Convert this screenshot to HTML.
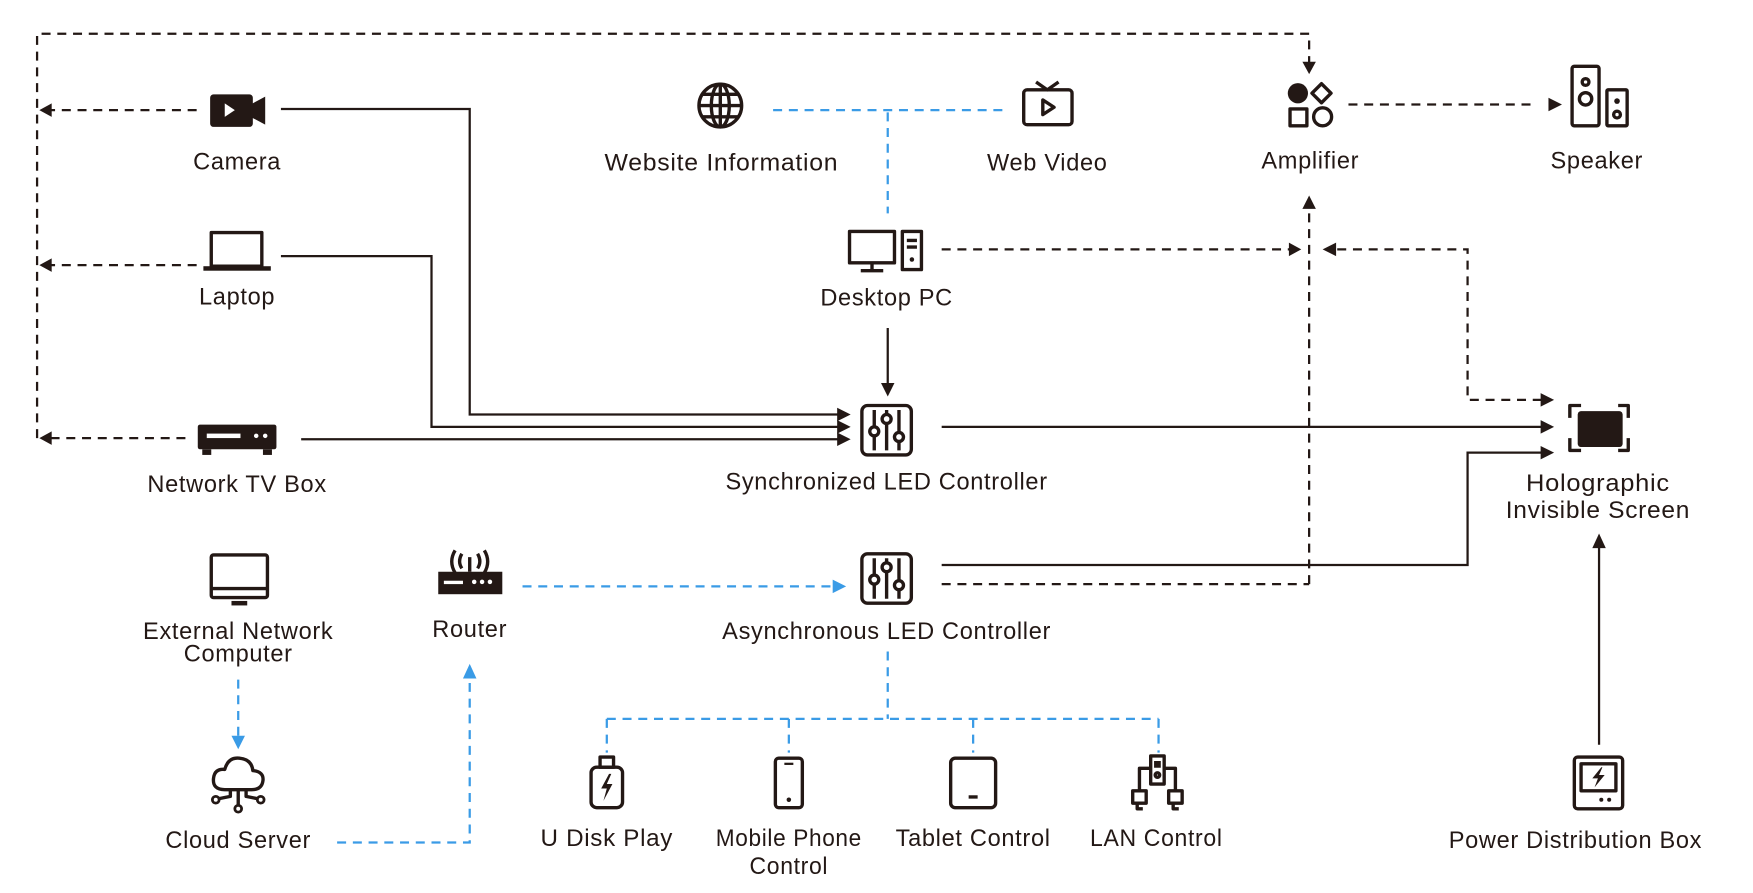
<!DOCTYPE html>
<html><head><meta charset="utf-8"><style>
html,body{margin:0;padding:0;background:#fff;}
svg{display:block;}
text{font-family:"Liberation Sans",sans-serif;font-size:21px;fill:#231815;text-anchor:middle;letter-spacing:0.6px;}
.k{stroke:#231815;stroke-width:2;fill:none;}
.d{stroke:#231815;stroke-width:2;fill:none;stroke-dasharray:8 6;}
.b{stroke:#3a9be6;stroke-width:2;fill:none;stroke-dasharray:8 6;}
.ak{fill:#231815;}
.ab{fill:#3a9be6;}
.i{stroke:#231815;stroke-width:3;fill:none;stroke-linejoin:round;}
.f{fill:#231815;}
</style></head><body>
<svg width="1753" height="893" viewBox="0 0 1560 795" preserveAspectRatio="none" xmlns="http://www.w3.org/2000/svg">
<path class="d" d="M33 390 V30 H1165 V56"/>
<polygon class="ak" points="1159,55 1171,55 1165,66"/>
<path class="d" d="M175 98 H44"/><polygon class="ak" points="35,98 46,92 46,104"/>
<path class="d" d="M175 236 H44"/><polygon class="ak" points="35,236 46,230 46,242"/>
<path class="d" d="M165 390 H44"/><polygon class="ak" points="35,390 46,384 46,396"/>

<path class="k" d="M250 97 H418 V369 H746"/>
<path class="k" d="M250 228 H384 V380 H746"/>
<path class="k" d="M268 391 H746"/>
<polygon class="ak" points="757,369 745,363 745,375"/>
<polygon class="ak" points="757,380 745,374 745,386"/>
<polygon class="ak" points="757,391 745,385 745,397"/>

<path class="b" d="M688 98 H893"/>
<path class="b" d="M790 100 V190"/>
<path class="k" d="M790 292 V342"/><polygon class="ak" points="784,341 796,341 790,353"/>
<path class="d" d="M838 222 H1148"/><polygon class="ak" points="1158,222 1147,216 1147,228"/>
<path class="d" d="M1200 93 H1368"/><polygon class="ak" points="1390,93 1378,87 1378,99"/>
<path class="d" d="M1165 520 V186"/><polygon class="ak" points="1165,174 1159,186 1171,186"/>
<path class="d" d="M838 520 H1165"/>
<path class="d" d="M1190 222 H1306 V356 H1372"/>
<polygon class="ak" points="1177,222 1189,216 1189,228"/>
<polygon class="ak" points="1383,356 1371,350 1371,362"/>
<path class="k" d="M838 380 H1372"/><polygon class="ak" points="1383,380 1371,374 1371,386"/>
<path class="k" d="M838 503 H1306 V403 H1372"/><polygon class="ak" points="1383,403 1371,397 1371,409"/>
<path class="k" d="M1423 663 V487"/><polygon class="ak" points="1423,475 1417,488 1429,488"/>

<path class="b" d="M212 605 V655"/><polygon class="ab" points="206,655 218,655 212,667"/>
<path class="b" d="M300 750 H418 V604"/><polygon class="ab" points="418,591 412,604 424,604"/>
<path class="b" d="M465 522 H740"/><polygon class="ab" points="753,522 741,516 741,528"/>
<path class="b" d="M790 580 V640 M540 640 H1031 M540 640 V670 M702 640 V670 M866 640 V670 M1031 640 V670"/>

<rect class="f" x="187" y="84" width="38" height="29" rx="3"/>
<polygon class="f" points="223,93 236,86 236,111 223,104"/>
<polygon points="200,92 200,104 209,98" fill="#fff"/>
<rect class="i" x="188" y="207" width="45" height="30"/>
<rect class="f" x="181" y="237" width="60" height="4"/>
<rect class="f" x="176" y="378" width="70" height="22" rx="2"/>
<rect x="184" y="386" width="30" height="4" fill="#fff"/>
<circle cx="228" cy="388" r="2" fill="#fff"/><circle cx="236" cy="388" r="2" fill="#fff"/>
<rect class="f" x="180" y="400" width="8" height="5"/><rect class="f" x="234" y="400" width="8" height="5"/>
<circle class="i" cx="641" cy="94" r="19"/>
<ellipse class="i" cx="641" cy="94" rx="8" ry="19"/>
<path class="i" d="M622 94 H660 M641 75 V113 M625 84 H657 M625 104 H657"/>
<rect class="i" x="911" y="80" width="43" height="31" rx="3"/>
<path class="i" d="M922 73 L932 80 L942 73"/>
<polygon class="i" points="928,89 928,102 938,95.5"/>
<rect class="i" x="756" y="206" width="40" height="28"/>
<path class="i" d="M776 234 V241 M766 241 H786"/>
<rect class="i" x="803" y="206" width="17" height="34"/>
<path class="i" d="M807 214 H816 M807 220 H816"/><circle class="f" cx="811.5" cy="231" r="2"/>
<g id="sl">
<rect class="i" x="767" y="361" width="44" height="44" rx="5"/>
<path class="i" d="M778 365 V401 M789 365 V401 M800 365 V401"/>
<circle cx="778" cy="384" r="4" fill="#fff" stroke="#231815" stroke-width="3"/>
<circle cx="789" cy="373" r="4" fill="#fff" stroke="#231815" stroke-width="3"/>
<circle cx="800" cy="389" r="4" fill="#fff" stroke="#231815" stroke-width="3"/>
</g>
<use href="#sl" y="132"/>
<circle class="f" cx="1155" cy="83" r="9"/>
<rect class="i" x="1170" y="77" width="12" height="12" transform="rotate(45 1176 83)"/>
<rect class="i" x="1148" y="97" width="15" height="15"/>
<circle class="i" cx="1177" cy="104" r="8"/>
<rect class="i" x="1399" y="59" width="24" height="53" rx="2"/>
<circle class="i" cx="1411" cy="73" r="3"/><circle class="i" cx="1411" cy="88" r="5.5"/>
<rect class="i" x="1430" y="80" width="18" height="32" rx="1"/>
<circle class="f" cx="1439" cy="90" r="2.5"/><circle class="i" cx="1439" cy="102" r="3"/>
<rect class="f" x="1404" y="366" width="40" height="32" rx="3"/>
<path class="i" d="M1397 372 V361 H1407 M1440 361 H1449 V372 M1397 390 V401 H1407 M1440 401 H1449 V390" stroke-width="2.5"/>
<rect class="i" x="188" y="494" width="50" height="38" rx="2"/>
<path class="i" d="M188 524 H238"/>
<rect class="f" x="206" y="535" width="14" height="4"/>
<rect class="f" x="390" y="509" width="57" height="20"/>
<rect x="395" y="517" width="17" height="3" fill="#fff"/>
<circle cx="422" cy="518" r="2" fill="#fff"/><circle cx="429" cy="518" r="2" fill="#fff"/><circle cx="436" cy="518" r="2" fill="#fff"/>
<path class="i" d="M418 509 V496" stroke-width="2.5"/>
<path class="i" d="M411 493 Q407 500 411 506 M425 493 Q429 500 425 506 M405 490 Q399 500 405 510 M431 490 Q437 500 431 510" stroke-width="2"/>
<path class="i" d="M200 703 Q189 703 190 693 Q191 684 200 685 Q203 674 213 675 Q224 676 225 686 Q235 687 234 695 Q233 703 224 703 Z" stroke-width="2.5"/>
<path class="i" d="M212 703 V717 M205 703 V709 L195 711 M219 703 V709 L229 711" stroke-width="2.5"/>
<circle cx="212" cy="720" r="3" fill="#fff" stroke="#231815" stroke-width="2.5"/>
<circle cx="192" cy="712" r="3" fill="#fff" stroke="#231815" stroke-width="2.5"/>
<circle cx="232" cy="712" r="3" fill="#fff" stroke="#231815" stroke-width="2.5"/>
<rect class="i" x="534" y="674" width="12" height="9"/>
<rect class="i" x="526" y="683" width="28" height="36" rx="5"/>
<polygon class="f" points="542,689 535,702 540,702 537,713 545,698 540,698 544,689"/>
<rect class="i" x="690" y="675" width="24" height="44" rx="3"/>
<rect class="f" x="698" y="679" width="8" height="2"/><circle class="f" cx="702" cy="712" r="2"/>
<rect class="i" x="846" y="675" width="40" height="44" rx="4"/>
<rect class="f" x="862" y="708" width="8" height="3"/>
<rect class="i" x="1024" y="673" width="12" height="25" stroke-width="2"/>
<path class="i" d="M1027 679 H1033 M1027 682 H1033" stroke-width="1.5"/><circle class="i" cx="1030" cy="690" r="2" stroke-width="1.5"/>
<path class="i" d="M1024 684 H1014 V703 M1036 684 H1046 V703" stroke-width="2"/>
<rect class="i" x="1008" y="704" width="12" height="11" stroke-width="2"/>
<rect class="i" x="1040" y="704" width="12" height="11" stroke-width="2"/>
<path class="i" d="M1012 716 V720 H1017 M1044 716 V720 H1049" stroke-width="2"/>
<rect class="i" x="1401" y="674" width="43" height="46" rx="3"/>
<rect class="i" x="1407" y="680" width="31" height="24" stroke-width="2"/>
<polygon class="f" points="1425,683 1417,693 1422,693 1419,701 1428,690 1423,690 1426,683"/>
<circle class="f" cx="1425" cy="712" r="1.8"/><circle class="f" cx="1432" cy="712" r="1.8"/>

<text x="211" y="151">Camera</text>
<text x="211" y="271">Laptop</text>
<text x="211" y="438">Network TV Box</text>
<text x="642" y="152" textLength="208" lengthAdjust="spacingAndGlyphs">Website Information</text>
<text x="932" y="152">Web Video</text>
<text x="789" y="272">Desktop PC</text>
<text x="789" y="436">Synchronized LED Controller</text>
<text x="1166" y="150">Amplifier</text>
<text x="1421" y="150">Speaker</text>
<text x="1422" y="437" textLength="128" lengthAdjust="spacingAndGlyphs">Holographic</text>
<text x="1422" y="461" textLength="164" lengthAdjust="spacingAndGlyphs">Invisible Screen</text>
<text x="212" y="569">External Network</text>
<text x="212" y="589">Computer</text>
<text x="418" y="567">Router</text>
<text x="789" y="569">Asynchronous LED Controller</text>
<text x="212" y="755">Cloud Server</text>
<text x="540" y="753" textLength="118" lengthAdjust="spacingAndGlyphs">U Disk Play</text>
<text x="702" y="753" textLength="130" lengthAdjust="spacingAndGlyphs">Mobile Phone</text>
<text x="702" y="778" textLength="70" lengthAdjust="spacingAndGlyphs">Control</text>
<text x="866" y="753" textLength="138" lengthAdjust="spacingAndGlyphs">Tablet Control</text>
<text x="1029" y="753" textLength="118" lengthAdjust="spacingAndGlyphs">LAN Control</text>
<text x="1402" y="755">Power Distribution Box</text>
</svg>
</body></html>
